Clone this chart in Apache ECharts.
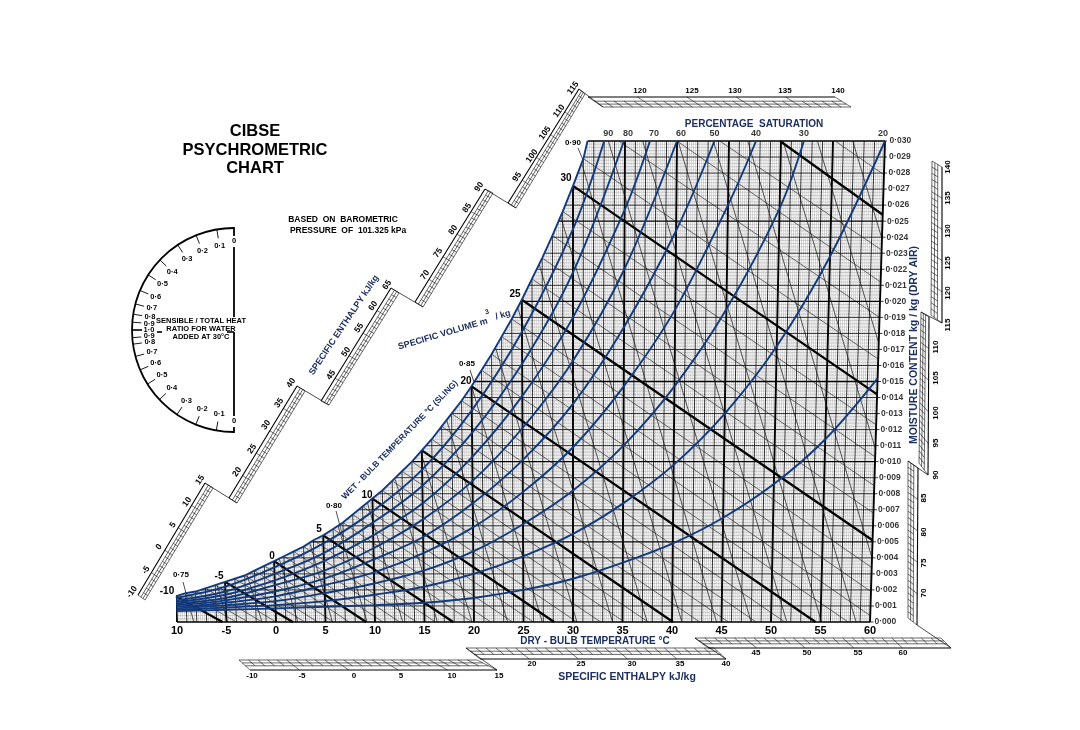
<!DOCTYPE html>
<html>
<head>
<meta charset="utf-8">
<title>CIBSE Psychrometric Chart</title>
<script src="https://cdn.jsdelivr.net/npm/echarts@6/dist/echarts.min.js"></script>
<style>
  html, body { margin: 0; padding: 0; background: #fff; }
  #main { width: 1080px; height: 730px; }
</style>
</head>
<body>
<div id="main"></div>
<script>
// 读图得到的数据：x = 干球温度 °C，y = 含湿量 kg/kg
const xTickLabels = ['10', '-5', '0', '5', '10', '15', '20', '25', '30', '35', '40', '45', '50', '55', '60']
const moistureTicks = ['0·000', '0·001', '0·002', '0·003', '0·004', '0·005', '0·006', '0·007', '0·008', '0·009', '0·010',
  '0·011', '0·012', '0·013', '0·014', '0·015', '0·016', '0·017', '0·018', '0·019', '0·020',
  '0·021', '0·022', '0·023', '0·024', '0·025', '0·026', '0·027', '0·028', '0·029', '0·030']

// 100% 饱和线
const satT = [-10, -9, -8, -7, -6, -5, -4, -3, -2, -1, 0, 1, 2, 3, 4, 5, 6, 7, 8, 9, 10, 11, 12, 13, 14, 15, 16, 17, 18, 19, 20, 21, 22, 23, 24, 25, 26, 27, 28, 29, 30, 31, 31.4]
const satW = [.0016, .0018, .0019, .0021, .0023, .0025, .0027, .0029, .0032, .0035, .0038, .0041, .0044, .0047, .0051, .0054, .0058, .0062, .0067, .0072, .0077, .0082, .0088, .0094, .01, .0107, .0114, .0122, .013, .0138, .0147, .0157, .0167, .0178, .0189, .0201, .0214, .0227, .0241, .0256, .0272, .0289, .03]

// 百分比饱和线，温度每 5 度一个值，最后接到顶边的交点
const pctT = [-10, -5, 0, 5, 10, 15, 20, 25, 30, 35, 40, 45, 50, 55, 60]
const pct90 = [.0015, .0022, .0034, .0049, .0069, .0095, .0132, .0181, .0245]
const pct80 = [.00135, .0019, .003, .0043, .0062, .0085, .0118, .0161, .0218]
const pct70 = [.00125, .0017, .0026, .0038, .0054, .0074, .0103, .0141, .019, .0257]
const pct60 = [.00115, .0015, .0023, .0032, .0046, .0064, .0088, .0121, .0163, .022]
const pct50 = [.00105, .00135, .0019, .0027, .0039, .0053, .0074, .0101, .0136, .0184, .0244]
const pct40 = [.00095, .0012, .0016, .0023, .0031, .0043, .0059, .0081, .0109, .0147, .0195, .026]
const pct30 = [.00085, .00105, .0013, .0018, .0024, .0032, .0044, .0061, .0082, .011, .0147, .0195, .0258]
const pct20 = [.00076, .0009, .00105, .0013, .0017, .0022, .003, .0041, .0055, .0074, .0098, .013, .0172, .0228, .03]
const pct10 = [.00068, .00076, .00085, .00095, .00105, .0012, .0015, .002, .0027, .0037, .0049, .0065, .0086, .0114, .0152]
const pctTopT = [33, 34.9, 37.4, 40, 43.6, 47.6, 52.2, null, null]
const pctNames = ['90', '80', '70', '60', '50', '40', '30', '20', '10']

// 湿球温度线
const wetBulb = [-10, -9, -8, -7, -6, -5, -4, -3, -2, -1, 0, 1, 2, 3, 4, 5, 6, 7, 8, 9, 10, 11, 12, 13, 14, 15, 16, 17, 18, 19, 20, 21, 22, 23, 24, 25, 26, 27, 28, 29, 30, 31, 32, 33, 34, 35, 36]
const wbStartT = [-10, -9, -8, -7, -6, -5, -4, -3, -2, -1, 0, 1, 2, 3, 4, 5, 6, 7, 8, 9, 10, 11, 12, 13, 14, 15, 16, 17, 18, 19, 20, 21, 22, 23, 24, 25, 26, 27, 28, 29, 30, 31, 34.4, 40, 44.1, 49.9, 55.2]
const wbStartW = [.0016, .0018, .0019, .0021, .0023, .0025, .0027, .0029, .0032, .0035, .0038, .0041, .0044, .0047, .0051, .0054, .0058, .0062, .0067, .0072, .0077, .0082, .0088, .0094, .01, .0107, .0114, .0122, .013, .0138, .0147, .0157, .0167, .0178, .0189, .0201, .0214, .0227, .0241, .0256, .0272, .0289, .03, .03, .03, .03, .03]
const wbEndT = [-5.4, -4, -2.8, -1.4, 0, 1.7, 2.9, 4.2, 5.8, 7.4, 9.1, 10.8, 12.5, 14.2, 16.1, 17.9, 19.8, 21.7, 23.9, 26, 28.1, 30.4, 32.8, 35.2, 37.6, 40.1, 42.8, 45.7, 48.5, 51.4, 54.5, 57.8, 60, 60, 60, 60, 60, 60, 60, 60, 60, 60, 60, 60, 60, 60, 60]
const wbEndW = [0, 0, 0, 0, 0, 0, 0, 0, 0, 0, 0, 0, 0, 0, 0, 0, 0, 0, 0, 0, 0, 0, 0, 0, 0, 0, 0, 0, 0, 0, 0, 0, .0004, .0019, .0034, .0051, .0068, .0085, .0103, .0123, .0142, .0164, .019, .0212, .0232, .0254, .0279]

// 比容线
const volStartT = [-9, -5.8, -2.8, .5, 3.6, 6.5, 9.5, 12.3, 14.9, 17.5, 20, 22.4, 24.6, 26.7, 28.8, 30.8, 33.4, 36.7, 40.1, 43.5, 46.8, 50.2, 53.5, 56.9]
const volStartW = [.0018, .0023, .003, .004, .005, .006, .0074, .0089, .0106, .0126, .0147, .0171, .0196, .0223, .0253, .0287, .03, .03, .03, .03, .03, .03, .03, .03]
const volEndT = [-8.3, -4.9, -1.4, 2.2, 5.7, 9.2, 12.8, 16.3, 19.8, 23.4, 26.9, 30.4, 34, 37.5, 41, 44.5, 48, 51.6, 55.1, 58.6, 60, 60, 60, 60]
const volEndW = [0, 0, 0, 0, 0, 0, 0, 0, 0, 0, 0, 0, 0, 0, 0, 0, 0, 0, 0, 0, .004, .0108, .0174, .0239]

// 显热比量角器
const shrLabels = ['0·1', '0·2', '0·3', '0·4', '0·5', '0·6', '0·7', '0·8', '0·9', '1·0', '0·9', '0·8', '0·7', '0·6', '0·5', '0·4', '0·3', '0·2', '0·1']
const shrAngles = [80.3, 68.2, 56.5, 43.4, 32.7, 22.8, 14.8, 8.9, 4.4, 0, -4.3, -8, -15, -23, -32, -43, -56, -68, -80]

const NAVY = '#123a7c'
const TEXTNAVY = '#1c2f60'
const FONT = '"Liberation Sans", Arial, sans-serif'

// 图的干球温度线呈扇形，30 度线垂直，其余向两边倾斜
function pt(t, w) {
  return [t + (t - 30) * 0.0505 * (w / 0.03), w]
}

function satAtT(t) {
  if (t >= satT[satT.length - 1]) return 0.03
  for (let i = 1; i < satT.length; i++) {
    if (t <= satT[i]) {
      let k = (t - satT[i - 1]) / (satT[i] - satT[i - 1])
      return satW[i - 1] + k * (satW[i] - satW[i - 1])
    }
  }
  return 0.03
}
function satAtW(w) {
  if (w <= satW[0]) return -10
  for (let i = 1; i < satW.length; i++) {
    if (w <= satW[i]) {
      let k = (w - satW[i - 1]) / (satW[i] - satW[i - 1])
      return satT[i - 1] + k * (satT[i] - satT[i - 1])
    }
  }
  return satT[satT.length - 1]
}

// 网格线段，用空点断开
function gridSegs(tStep, wStep, skipT, skipW) {
  let out = []
  if (tStep) {
    let n = Math.round(70 / tStep)
    for (let i = 0; i <= n; i++) {
      let t = -10 + i * tStep
      if (skipT && Math.abs(t / skipT - Math.round(t / skipT)) < 1e-6) continue
      out.push(pt(t, 0), pt(t, satAtT(t)), [null, null])
    }
  }
  if (wStep) {
    let n = Math.round(0.03 / wStep)
    for (let i = 0; i <= n; i++) {
      let w = i * wStep
      if (skipW && Math.abs(w / skipW - Math.round(w / skipW)) < 1e-6) continue
      out.push(pt(satAtW(w), w), pt(60, w), [null, null])
    }
  }
  return out
}

function lineSeries(name, data, color, width, extra) {
  return Object.assign({
    name, type: 'line', data, symbol: 'none', silent: true, animation: false, clip: false,
    lineStyle: { color, width }, connectNulls: false,
  }, extra || {})
}

function pickLines(cond, startT, startW, endT, endW) {
  let out = []
  startT.forEach((t, i) => {
    if (cond(i)) out.push(pt(t, startW[i]), pt(endT[i], endW[i]), [null, null])
  })
  return out
}

function textLabels(name, rows, size, position, distance) {
  return {
    name, type: 'scatter', silent: true, animation: false, symbolSize: 1, clip: false,
    itemStyle: { color: 'transparent' },
    data: rows.map((r) => ({ value: r[0], label: { formatter: r[1], offset: r[2] || [0, 0] } })),
    label: { show: true, position, distance, color: '#000', fontFamily: FONT, fontWeight: 'bold', fontSize: size },
  }
}

// ---------- 坐标系外的装饰 ----------
let graphics = []
function gLine(x1, y1, x2, y2, width, color) {
  graphics.push({ type: 'line', silent: true, shape: { x1, y1, x2, y2 }, style: { stroke: color || '#000', lineWidth: width || 0.7 } })
}
function gText(text, x, y, size, opts) {
  opts = opts || {}
  graphics.push({
    type: 'text', silent: true, x, y, rotation: opts.rot || 0,
    style: {
      text, font: (opts.weight || 'bold') + ' ' + size + 'px ' + FONT, fill: opts.fill || '#000',
      align: opts.align || 'center', verticalAlign: 'middle',
    },
  })
}

// 焓值刻度条：a 为标注一侧的外轨，b 为内轨
function ladder(a0, a1, b0, b1, n) {
  const lerp = (p, q, k) => [p[0] + (q[0] - p[0]) * k, p[1] + (q[1] - p[1]) * k]
  ;[0, 0.42, 0.71, 1].forEach((f) => {
    let p = lerp(a0, b0, f), q = lerp(a1, b1, f)
    gLine(p[0], p[1], q[0], q[1], f === 0 ? 1.1 : 0.6)
  })
  for (let i = 0; i <= n; i++) {
    let p = lerp(a0, a1, i / n), q = lerp(b0, b1, i / n)
    let s = i % 5 === 0 ? p : lerp(p, q, 0.42)
    gLine(s[0], s[1], q[0], q[1], 0.55)
  }
}
ladder([138, 595], [205, 483], [145, 600], [213, 488], 25)
ladder([229, 498], [297, 386], [237, 503], [305, 391], 25)
ladder([321, 401], [391, 288], [329, 405], [399, 293], 25)
ladder([415, 302], [485, 189], [423, 307], [493, 193], 25)
ladder([508, 203], [579, 89], [516, 208], [585, 94], 25)
ladder([588, 97], [835, 97], [603, 107], [851, 107], 25)
ladder([942, 323], [942, 167], [931, 315], [932, 161], 25)
ladder([928, 475], [929, 317], [919, 463], [921, 312], 25)
ladder([917, 625], [918, 468], [908, 618], [908, 461], 25)
ladder([951, 648], [708, 648], [941, 638], [695, 638], 25)
ladder([726, 659], [480, 659], [714, 648], [466, 648], 25)
ladder([497, 670], [250, 670], [477, 660], [239, 660], 25)
gLine(205, 483, 237, 503); gLine(297, 386, 329, 405); gLine(391, 288, 423, 307)
gLine(485, 189, 516, 208); gLine(579, 89, 603, 107); gLine(921, 312, 942, 323)
gLine(908, 461, 928, 475); gLine(917, 625, 951, 648); gLine(726, 659, 695, 638); gLine(497, 670, 466, 648)

const DIAG = 0.95
;[['-10', 132, 592], ['-5', 146, 570], ['0', 159, 547], ['5', 173, 525], ['10', 187, 502], ['15', 200, 480],
  ['20', 237, 472], ['25', 252, 449], ['30', 266, 425], ['35', 279, 403], ['40', 291, 383],
  ['45', 331, 375], ['50', 346, 352], ['55', 359, 328], ['60', 373, 306], ['65', 387, 285],
  ['70', 425, 275], ['75', 438, 253], ['80', 453, 230], ['85', 467, 208], ['90', 479, 187],
  ['95', 517, 177], ['100', 532, 156], ['105', 545, 133], ['110', 559, 111], ['115', 573, 88]]
  .forEach((r) => gText(r[0], r[1], r[2], 8.5, { rot: DIAG }))
;[['120', 640], ['125', 692], ['130', 735], ['135', 785], ['140', 838]].forEach((r) => gText(r[0], r[1], 91, 8))
;[['140', 167], ['135', 198], ['130', 231], ['125', 263], ['120', 293], ['115', 325]].forEach((r) => gText(r[0], 948, r[1], 8, { rot: Math.PI / 2 }))
;[['110', 347], ['105', 378], ['100', 413], ['95', 443], ['90', 475]].forEach((r) => gText(r[0], 936, r[1], 8, { rot: Math.PI / 2 }))
;[['85', 498], ['80', 532], ['75', 563], ['70', 593]].forEach((r) => gText(r[0], 924, r[1], 8, { rot: Math.PI / 2 }))
;[['45', 756], ['50', 807], ['55', 858], ['60', 903]].forEach((r) => gText(r[0], r[1], 653, 8))
;[['20', 532], ['25', 581], ['30', 632], ['35', 680], ['40', 726]].forEach((r) => gText(r[0], r[1], 664, 8))
;[['-10', 252], ['-5', 302], ['0', 354], ['5', 401], ['10', 452], ['15', 499]].forEach((r) => gText(r[0], r[1], 676, 8))

// 标题与说明
gText('CIBSE', 255, 131, 16.5)
gText('PSYCHROMETRIC', 255, 150, 16.5)
gText('CHART', 255, 168, 16.5)
gText('BASED  ON  BAROMETRIC', 343, 220, 8.5)
gText('PRESSURE  OF  101.325 kPa', 348, 231, 8.5)
gText('PERCENTAGE  SATURATION', 754, 124, 10, { fill: TEXTNAVY })
gText('DRY - BULB TEMPERATURE °C', 595, 641, 10, { fill: TEXTNAVY })
gText('SPECIFIC ENTHALPY kJ/kg', 627, 677, 10.5, { fill: TEXTNAVY })
gText('SPECIFIC ENTHALPY kJ/kg', 344, 325, 9, { fill: TEXTNAVY, rot: 0.98 })
gText('WET - BULB TEMPERATURE °C (SLING)', 400, 440, 8.5, { fill: TEXTNAVY, rot: 0.8 })
gText('SPECIFIC VOLUME m', 443, 334, 9, { fill: TEXTNAVY, rot: 0.288 })
gText('3', 487, 312, 7, { fill: TEXTNAVY, rot: 0.288 })
gText('/ kg', 503, 315, 9, { fill: TEXTNAVY, rot: 0.288 })
gText('MOISTURE CONTENT kg / kg (DRY AIR)', 914, 345, 10.5, { fill: TEXTNAVY, rot: Math.PI / 2 })

// 饱和线旁的湿球温度与比容标注
;[['-10', 167, 591], ['-5', 219, 576], ['0', 272, 556], ['5', 319, 529], ['10', 367, 495], ['20', 466, 381], ['25', 515, 294], ['30', 566, 178]]
  .forEach((r) => gText(r[0], r[1], r[2], 10))
;[['0·75', 181, 575], ['0·80', 334, 506], ['0·85', 467, 364], ['0·90', 573, 143]].forEach((r) => gText(r[0], r[1], r[2], 8))
gLine(183, 582, 186, 593); gLine(336, 511, 343, 537); gLine(470, 370, 474, 382); gLine(578, 148, 583, 160)

// 量角器
const CX = 234, CY = 330, R = 102
graphics.push({
  type: 'arc', silent: true,
  shape: { cx: CX, cy: CY, r: R, startAngle: Math.PI / 2, endAngle: Math.PI * 1.5, clockwise: true },
  style: { stroke: '#000', lineWidth: 1.8, fill: null },
})
shrAngles.forEach((a, i) => {
  let rad = a * Math.PI / 180
  let c = Math.cos(rad), s = Math.sin(rad)
  let inner = a === 0 ? R - 10 : R - 9
  gLine(CX - R * c, CY - R * s, CX - inner * c, CY - inner * s, a === 0 ? 1.6 : 0.9)
  gText(shrLabels[i], CX - 85 * c, CY - 85 * s, 7.5)
})
gLine(157, 332, 162, 332, 1.6)
gLine(CX, 227, CX, 236, 1.8); gLine(CX, 247, CX, 317, 1.8)
gLine(CX - 7, 332, CX, 332, 1.6); gLine(CX, 332, CX, 416, 1.8); gLine(CX, 427, CX, 433, 1.8)
gText('0', CX, 241, 7.5); gText('0', CX, 421, 7.5)
gText('SENSIBLE / TOTAL HEAT', 201, 321, 7.5)
gText('RATIO FOR WATER', 201, 329, 7.5)
gText('ADDED AT 30°C', 201, 337, 7.5)

// ---------- 系列 ----------
let series = [
  lineSeries('gridFine', gridSegs(0.2, 0.0002, 1, 0.001), '#a8a8a8', 0.5),
  lineSeries('gridMedium', gridSegs(1, 0.001, 5, 0.005), '#000', 0.8),
  lineSeries('gridHeavyT', gridSegs(5, 0), '#000', 1.9),
  lineSeries('gridHeavyW', gridSegs(0, 0.005), '#000', 1.4),
  lineSeries('wetBulbThin', pickLines((i) => wetBulb[i] % 5 !== 0, wbStartT, wbStartW, wbEndT, wbEndW), '#111', 0.6),
  lineSeries('specificVolume', pickLines(() => true, volStartT, volStartW, volEndT, volEndW), '#111', 0.7),
  lineSeries('wetBulbHeavy', pickLines((i) => wetBulb[i] % 5 === 0, wbStartT, wbStartW, wbEndT, wbEndW), '#000', 2.2),
]

// 纵向标尺的小刻度
let tickSegs = []
moistureTicks.forEach((s, i) => {
  let w = i * 0.001
  let p = pt(60, w)
  tickSegs.push(p, [p[0] + 0.35, w], [null, null])
})
series.push(lineSeries('moistureTicks', tickSegs, '#000', 0.8))

;[pct90, pct80, pct70, pct60, pct50, pct40, pct30, pct20, pct10].forEach((vals, k) => {
  let data = vals.map((w, i) => pt(pctT[i], w))
  if (pctTopT[k] !== null) data.push(pt(pctTopT[k], 0.03))
  series.push(lineSeries('pct' + pctNames[k], data, NAVY, 1.9, { smooth: 0.35, z: 4 }))
})
series.push(lineSeries('saturation', satT.map((t, i) => pt(t, satW[i])), NAVY, 1.9, { z: 4 }))

series.push(textLabels('moistureLabels', moistureTicks.map((s, i) => [pt(60, i * 0.001), s]), 8.5, 'right', 4))
series.push(textLabels('pctLabels', pctNames.slice(0, 8).map((s, k) => [pt(k < 7 ? pctTopT[k] : 59.8, 0.03), s, k < 4 ? [4, 0] : [0, 0]]), 9, 'top', 2))

var myChart = echarts.init(document.getElementById('main'), null, { renderer: 'canvas' })
myChart.setOption({
  backgroundColor: '#fff',
  animation: false,
  grid: { left: 177, top: 141, width: 708.84, height: 481 },
  xAxis: {
    type: 'value', min: -10, max: 61.6, interval: 5,
    axisLine: { show: false }, axisTick: { show: false }, splitLine: { show: false },
    axisLabel: {
      margin: 3, color: '#000', fontFamily: FONT, fontWeight: 'bold', fontSize: 11,
      showMaxLabel: false,
      formatter: (v) => {
        let i = Math.round((v + 10) / 5)
        return Number.isInteger((v + 10) / 5) && xTickLabels[i] ? xTickLabels[i] : ''
      },
    },
  },
  yAxis: { type: 'value', min: 0, max: 0.03, interval: 0.001, show: false },
  series,
  graphic: { elements: graphics },
})
</script>
</body>
</html>
